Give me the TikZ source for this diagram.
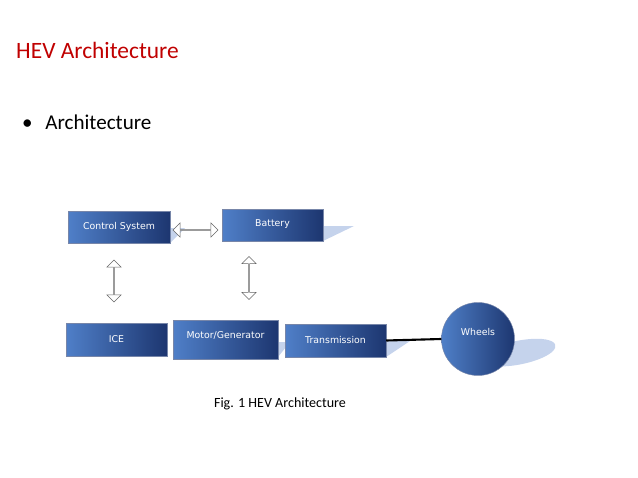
\documentclass[tikz,border=0pt]{standalone}
\usepackage{fontspec}
\setmainfont{Carlito}
\newfontfamily\boxfont{DejaVu Sans}
\usetikzlibrary{shapes.arrows}
\definecolor{hevred}{HTML}{C00000}
\definecolor{boxlight}{HTML}{4F7FC8}
\definecolor{boxdark}{HTML}{1D3670}
\definecolor{shadowblue}{HTML}{C5D3EC}
\begin{document}
\begin{tikzpicture}[x=0.03cm,y=-0.03cm]
\tikzstyle{block}=[rectangle,left color=boxlight,right color=boxdark,draw=boxdark!60,text=white,font=\boxfont\fontsize{8}{9}\selectfont,inner sep=0pt]
\tikzstyle{dblarrow}=[double arrow,draw=gray!80!black,fill=white,minimum height=42\pgflinewidth,double arrow head extend=2.5pt,inner sep=0pt,minimum width=12pt]
\tikzstyle{shade}=[fill=shadowblue,draw=none]
\useasboundingbox (0,0) rectangle (638,478);
% shadows
\fill[shade] (170,228) -- (185,228) -- (170,243) -- cycle;
\fill[shade] (323,226) -- (354,226) -- (323,241) -- cycle;
\fill[shade] (278,342) -- (290,342) -- (278,357) -- cycle;
\fill[shade] (386,341) -- (410,341) -- (386,357) -- cycle;
\fill[shade] (500,345) .. controls (540,333) and (565,340) .. (552,352) .. controls (540,362) and (510,368) .. (495,366) -- cycle;
% blocks
\node[block,minimum width=102\pgflinewidth*0+102*0.03cm,minimum height=32*0.03cm] (ctrl) at (119,227) {Control System};
\node[block,minimum width=101*0.03cm,minimum height=32*0.03cm] (bat) at (272.5,225) {\raisebox{4pt}{Battery}};
\node[block,minimum width=101*0.03cm,minimum height=33*0.03cm] (ice) at (116.5,339.5) {ICE};
\node[block,minimum width=105*0.03cm,minimum height=39*0.03cm] (motor) at (225.5,339.5) {\raisebox{7pt}{Motor/Generator}};
\node[block,minimum width=101*0.03cm,minimum height=33*0.03cm] (trans) at (335.5,340.5) {Transmission};
\node[circle,left color=boxlight,right color=boxdark,draw=boxdark!60,text=white,font=\boxfont\fontsize{8}{9}\selectfont,minimum size=73*0.03cm,inner sep=0pt] (wheels) at (478,339) {\raisebox{12pt}{Wheels}};
\draw[line width=1.8pt] (trans.east) -- (wheels.west);
% double arrows
\node[dblarrow,minimum height=45*0.03cm] (a1) at (195.5,230) {};
\node[dblarrow,minimum height=42*0.03cm,rotate=90] (a2) at (114,281) {};
\node[dblarrow,minimum height=43*0.03cm,rotate=90] (a3) at (249,278) {};
% texts
\node[anchor=west,text=hevred,font=\fontsize{20}{24}\selectfont,inner sep=0pt] (title) at (16,50) {HEV Architecture};
\node[anchor=west,font=\fontsize{18}{22}\selectfont,inner sep=0pt] (bullet) at (22,122) {\textbullet\hspace{0.6em}Architecture};
\node[font=\fontsize{12}{14}\selectfont] (cap) at (280,404) {Fig. 1 HEV Architecture};
\end{tikzpicture}
\end{document}
